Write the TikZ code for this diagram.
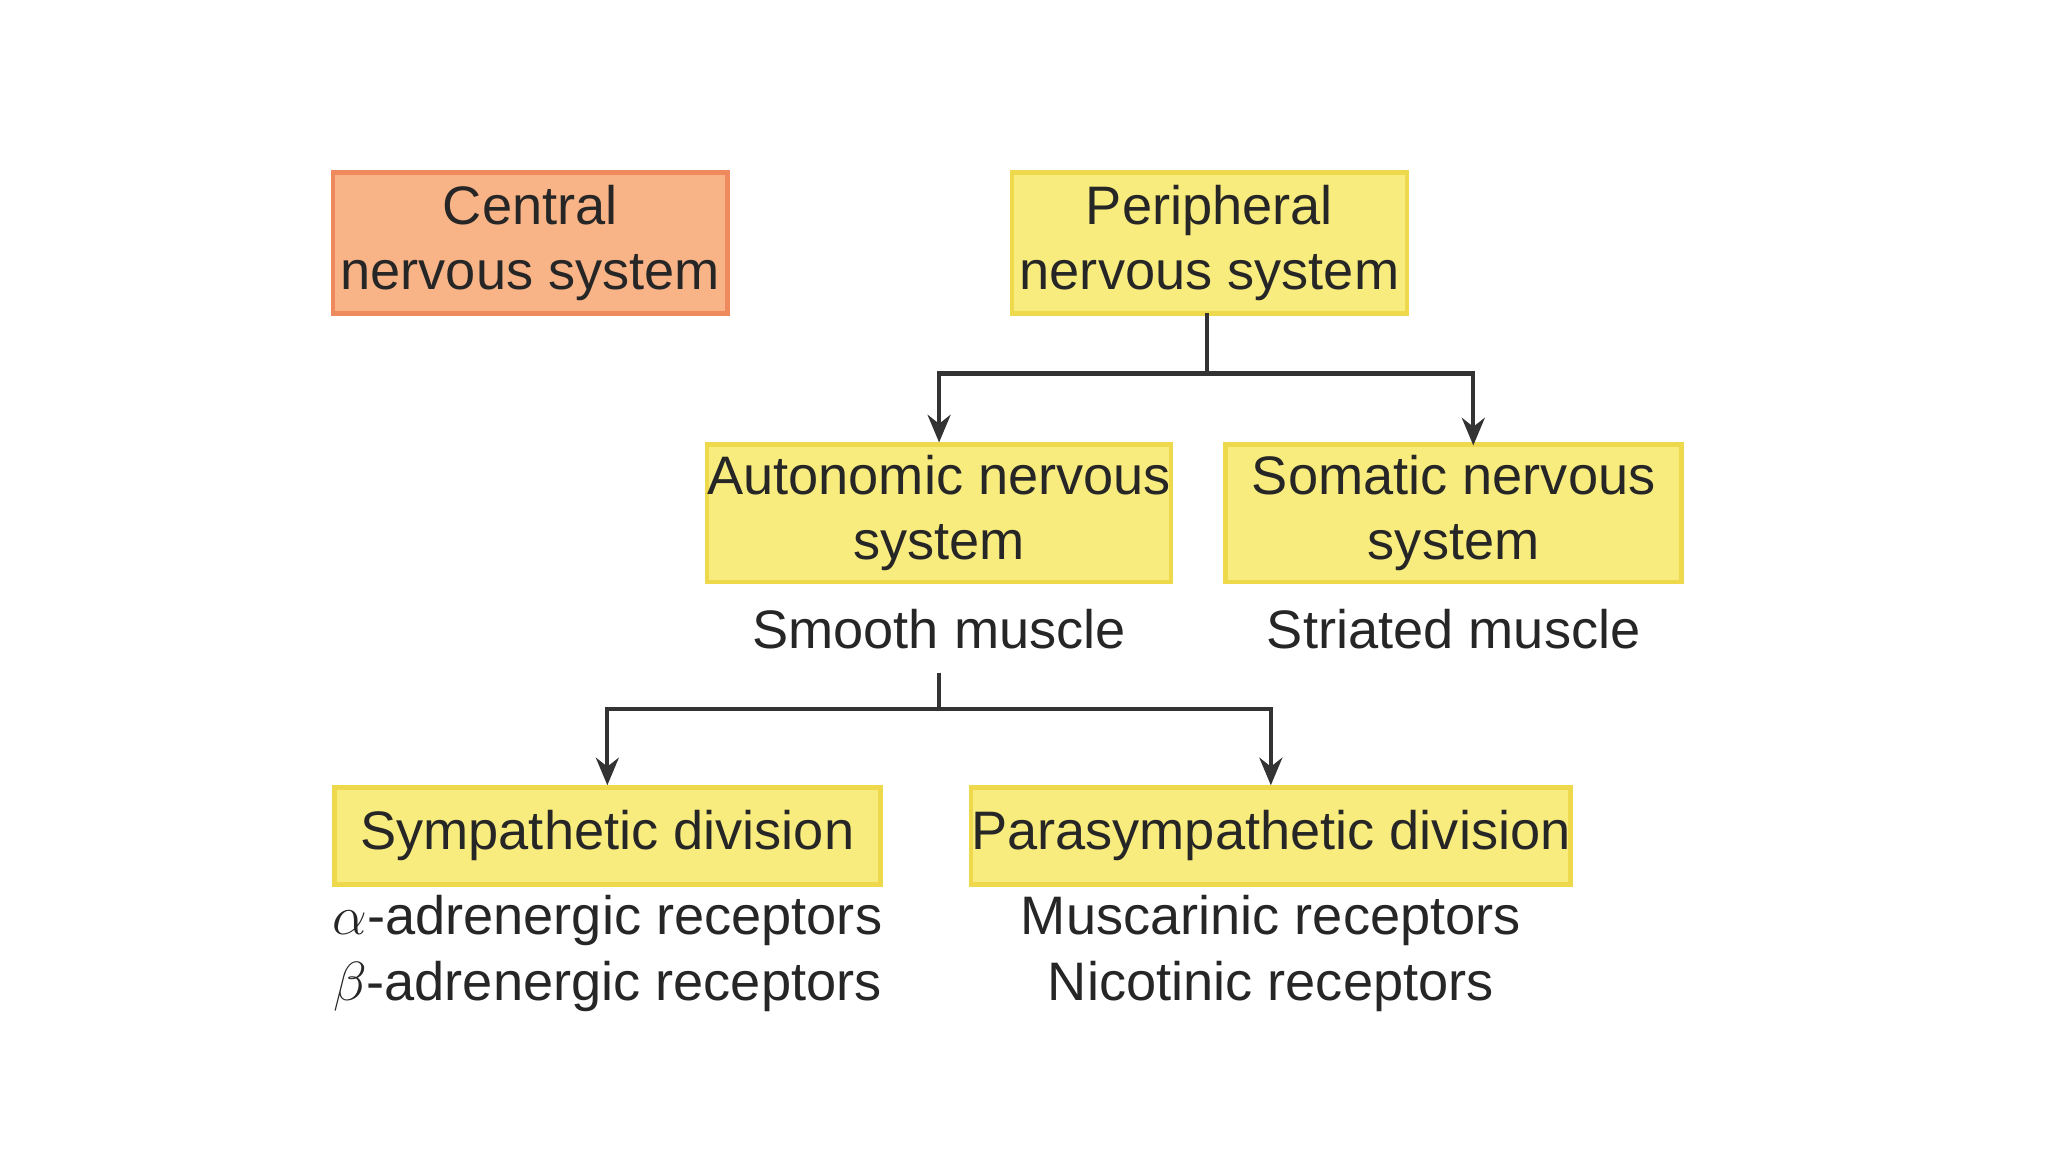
\documentclass[tikz,border=0pt]{standalone}
\usepackage{fontspec}
\setmainfont{Liberation Sans}
\usetikzlibrary{arrows.meta}
\definecolor{yfill}{HTML}{F9EC7E}
\definecolor{ydraw}{HTML}{EED84C}
\definecolor{ofill}{HTML}{F8B487}
\definecolor{odraw}{HTML}{EE8A5E}
\definecolor{ln}{HTML}{333333}
\begin{document}
\begin{tikzpicture}[x=0.01cm,y=-0.01cm,
  box/.style={draw=ydraw,fill=yfill,line width=1pt,align=center,inner sep=0pt,
     font=\fontsize{11.8}{14.2}\selectfont,text=black!85},
  lbl/.style={align=center,inner sep=2pt,font=\fontsize{11.8}{14.2}\selectfont,text=black!85},
  arr/.style={draw=ln,line width=0.9pt,-{Stealth[length=6pt,width=5pt]}},
  con/.style={draw=ln,line width=0.9pt}]
\useasboundingbox (0,0) rectangle (1568,882);
\node[box,draw=odraw,fill=ofill,minimum width=3.02cm,minimum height=1.08cm] (cns) at (406,186) {Central\\nervous system};
\node[box,minimum width=3.02cm,minimum height=1.08cm] (pns) at (926,186) {Peripheral\\nervous system};
\node[box,minimum width=3.48cm,minimum height=1.05cm] (ans) at (719,393) {Autonomic nervous\\system};
\node[box,minimum width=3.49cm,minimum height=1.05cm] (sns) at (1113,393) {Somatic nervous\\system};
\node[lbl] (sm) at (719,482) {Smooth muscle};
\node[lbl] (st) at (1113,482) {Striated muscle};
\node[box,minimum width=4.18cm,minimum height=0.74cm] (sym) at (465,640) {Sympathetic division};
\node[box,minimum width=4.52cm,minimum height=0.74cm] (par) at (973,640) {Parasympathetic division};
\node[lbl] (sr) at (465,730) {$\alpha$-adrenergic receptors\\$\beta$-adrenergic receptors};
\node[lbl] (pr) at (973,730) {Muscarinic receptors\\Nicotinic receptors};
\coordinate (j1) at (924,286);
\coordinate (s2) at (719,515);
\coordinate (j2) at (719,543);
\draw[con] (924,240) -- (j1);
\draw[arr] (j1) -| (ans.north);
\draw[arr] (j1) -| (1128,341);
\draw[con] (s2) -- (j2);
\draw[arr] (j2) -| (sym.north);
\draw[arr] (j2) -| (par.north);
\end{tikzpicture}
\end{document}
